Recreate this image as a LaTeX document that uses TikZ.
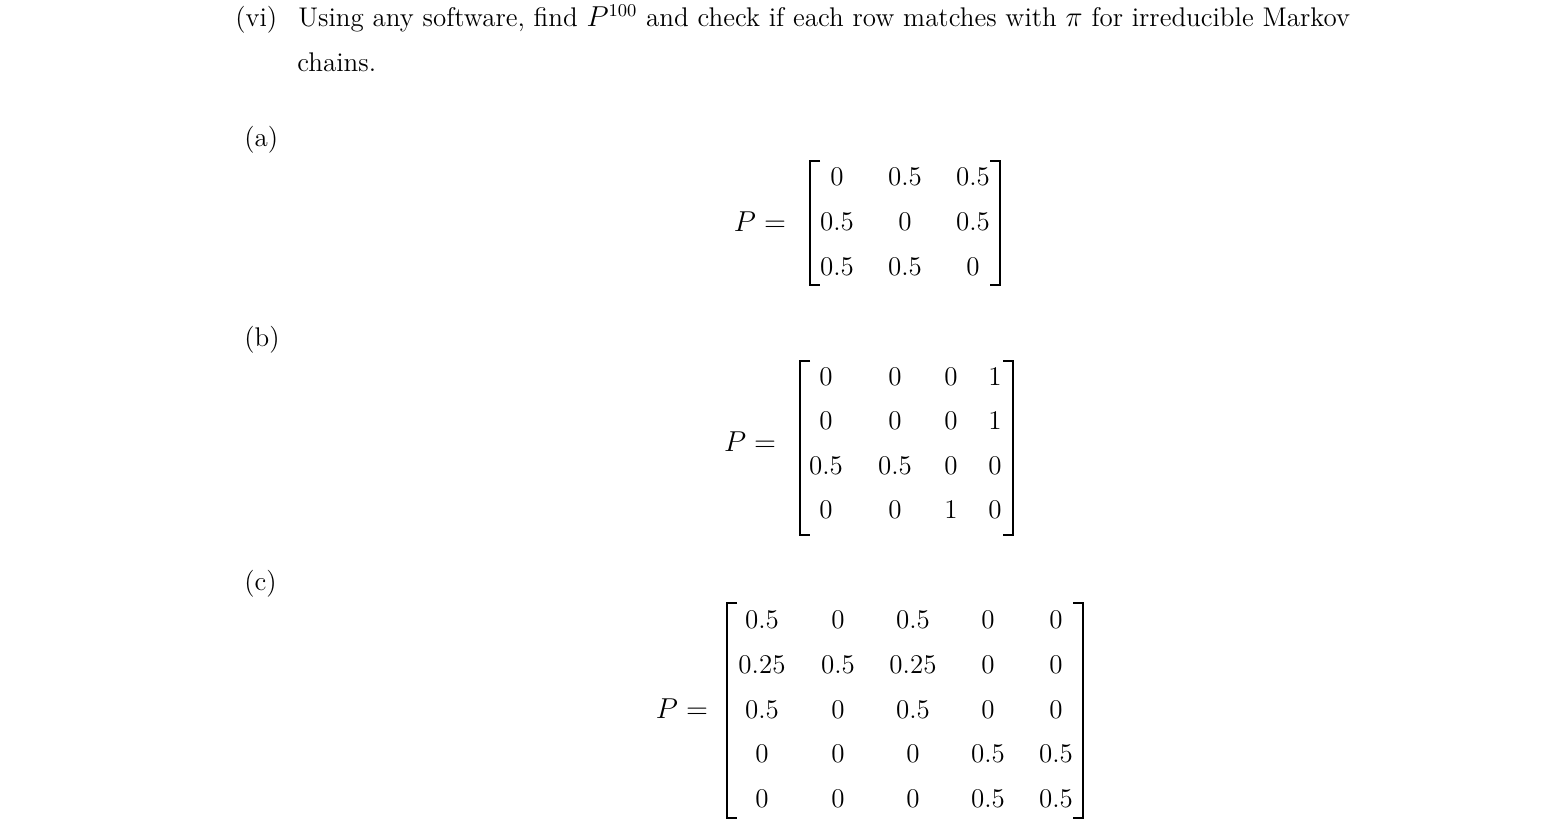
\documentclass[tikz,border=0pt]{standalone}
\begin{document}
\begin{tikzpicture}[x=0.5pt,y=-0.5pt,
  txt/.style={anchor=base west,inner sep=0pt,font=\fontsize{13.5}{16}\selectfont},
  ent/.style={anchor=center,inner sep=0pt,font=\fontsize{13.5}{16}\selectfont},
  brk/.style={line width=1.2pt}]
\useasboundingbox (0,0) rectangle (1556,828);
\node[txt] (vi) at (235,27) {(vi)};
\node[txt] (l1) at (298,27) {Using any software, find $P^{100}$ and check if each row matches with $\pi$ for irreducible Markov};
\node[txt] (l2) at (297,72) {chains.};
\node[txt] (a) at (244,147) {(a)};
\node[txt] (b) at (244,346) {(b)};
\node[txt] (c) at (244,590) {(c)};
% matrix a
\node[ent] (pa) at (760,222) {$P=$};
\draw[brk] (820,161) -- (810,161) -- (810,285) -- (820,285);
\draw[brk] (990,161) -- (1000,161) -- (1000,285) -- (990,285);
\foreach \r/\y in {1/177,2/222,3/267}{}
\node[ent] (a11) at (837,177) {0}; \node[ent] (a12) at (905,177) {0.5}; \node[ent] (a13) at (973,177) {0.5};
\node[ent] (a21) at (837,222) {0.5}; \node[ent] (a22) at (905,222) {0}; \node[ent] (a23) at (973,222) {0.5};
\node[ent] (a31) at (837,267) {0.5}; \node[ent] (a32) at (905,267) {0.5}; \node[ent] (a33) at (973,267) {0};
% matrix b
\node[ent] (pb) at (750,442) {$P=$};
\draw[brk] (810,361) -- (800,361) -- (800,535) -- (810,535);
\draw[brk] (1003,361) -- (1013,361) -- (1013,535) -- (1003,535);
\node[ent] (b11) at (826,377) {0}; \node[ent] (b12) at (895,377) {0}; \node[ent] (b13) at (951,377) {0}; \node[ent] (b14) at (995,377) {1};
\node[ent] (b21) at (826,421) {0}; \node[ent] (b22) at (895,421) {0}; \node[ent] (b23) at (951,421) {0}; \node[ent] (b24) at (995,421) {1};
\node[ent] (b31) at (826,466) {0.5}; \node[ent] (b32) at (895,466) {0.5}; \node[ent] (b33) at (951,466) {0}; \node[ent] (b34) at (995,466) {0};
\node[ent] (b41) at (826,510) {0}; \node[ent] (b42) at (895,510) {0}; \node[ent] (b43) at (951,510) {1}; \node[ent] (b44) at (995,510) {0};
% matrix c
\node[ent] (pc) at (682,709) {$P=$};
\draw[brk] (737,603) -- (727,603) -- (727,818) -- (737,818);
\draw[brk] (1073,603) -- (1083,603) -- (1083,818) -- (1073,818);
\node[ent] (c11) at (762,620) {0.5}; \node[ent] (c12) at (838,620) {0}; \node[ent] (c13) at (913,620) {0.5}; \node[ent] (c14) at (988,620) {0}; \node[ent] (c15) at (1056,620) {0};
\node[ent] (c21) at (762,665) {0.25}; \node[ent] (c22) at (838,665) {0.5}; \node[ent] (c23) at (913,665) {0.25}; \node[ent] (c24) at (988,665) {0}; \node[ent] (c25) at (1056,665) {0};
\node[ent] (c31) at (762,710) {0.5}; \node[ent] (c32) at (838,710) {0}; \node[ent] (c33) at (913,710) {0.5}; \node[ent] (c34) at (988,710) {0}; \node[ent] (c35) at (1056,710) {0};
\node[ent] (c41) at (762,754) {0}; \node[ent] (c42) at (838,754) {0}; \node[ent] (c43) at (913,754) {0}; \node[ent] (c44) at (988,754) {0.5}; \node[ent] (c45) at (1056,754) {0.5};
\node[ent] (c51) at (762,799) {0}; \node[ent] (c52) at (838,799) {0}; \node[ent] (c53) at (913,799) {0}; \node[ent] (c54) at (988,799) {0.5}; \node[ent] (c55) at (1056,799) {0.5};
\end{tikzpicture}
\end{document}
